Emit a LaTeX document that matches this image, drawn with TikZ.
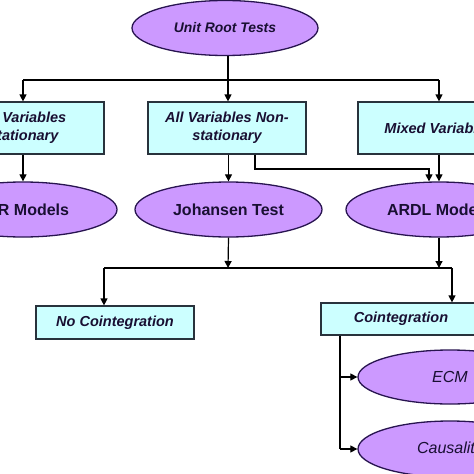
\documentclass[tikz,border=0pt]{standalone}
\usepackage{fontspec}
\setmainfont{Liberation Sans}
\usetikzlibrary{shapes.geometric,arrows.meta}
\definecolor{ellfill}{RGB}{204,153,255}
\definecolor{ellline}{RGB}{40,20,80}
\definecolor{boxfill}{RGB}{204,255,255}
\definecolor{boxline}{RGB}{40,50,60}
\definecolor{txt}{RGB}{25,15,50}
\begin{document}
\begin{tikzpicture}[x=1pt,y=-1pt,
  ell/.style={ellipse,draw=ellline,fill=ellfill,line width=1.3pt,inner sep=0pt,text=txt},
  bx/.style={rectangle,draw=boxline,fill=boxfill,line width=1.2pt,inner sep=0pt,text=txt,align=center,
    font=\fontsize{14.5}{18}\selectfont\bfseries\itshape},
  conn/.style={line width=1.2pt,draw=black},
  arr/.style={conn,-{Triangle[length=7pt,width=7pt]}}]
\useasboundingbox (0,0) rectangle (474,474);
\fill[white] (0,0) rectangle (474,474);
% nodes
\node[ell,minimum width=186pt,minimum height=55pt,font=\fontsize{13.9}{16}\selectfont\bfseries\itshape] (urt) at (225,28) {Unit Root Tests};
\node[bx,minimum width=162pt,minimum height=52pt] (b1) at (23,128) {All Variables\\Stationary};
\node[bx,minimum width=158pt,minimum height=52pt] (b2) at (227,128) {All Variables Non-\\stationary};
\node[bx,minimum width=162pt,minimum height=52pt] (b3) at (439,128) {Mixed Variables};
\node[ell,minimum width=188pt,minimum height=55pt,font=\fontsize{16}{18}\selectfont\bfseries] (var) at (23,209.5) {VAR Models};
\node[ell,minimum width=187pt,minimum height=55pt,font=\fontsize{16}{18}\selectfont\bfseries] (joh) at (228.5,209.5) {Johansen Test};
\node[ell,minimum width=186pt,minimum height=55pt,font=\fontsize{16}{18}\selectfont\bfseries] (ardl) at (439,209.5) {ARDL Models};
\node[bx,minimum width=158pt,minimum height=33pt] (nc) at (115,322.5) {No Cointegration};
\node[bx,minimum width=160pt,minimum height=32pt] (co) at (401,319) {Cointegration};
\node[ell,minimum width=184pt,minimum height=54pt,font=\fontsize{16}{18}\selectfont\itshape] (ecm) at (450,377) {ECM};
\node[ell,minimum width=184pt,minimum height=56pt,font=\fontsize{16}{18}\selectfont\itshape] (cau) at (450,449) {Causality};
% junction coordinates
\coordinate (j1) at (228,80);
\coordinate (j2a) at (255,169);
\coordinate (j2b) at (429,169);
\coordinate (j3) at (228,268);
\coordinate (j4) at (439,268);
\coordinate (cb) at (340,335);
% connectors
\draw[arr] (urt.south -| j1) -- (b2.north -| j1);
\draw[conn] (b1.north |- j1) -- (b3.north |- j1);
\draw[arr] (b1.north |- j1) -- (b1.north);
\draw[arr] (b3.north |- j1) -- (b3.north);
\draw[arr] (b1.south) -- (var.north);
\draw[arr] (b2.south -| joh.north) -- (joh.north);
\draw[arr] (b2.south -| j2a) -- (j2a) -- (j2b) -- (ardl.north -| j2b);
\draw[arr] (b3.south) -- (ardl.north);
\draw[arr] (joh.south) -- (j3);
\draw[arr] (ardl.south) -- (j4);
\draw[conn] (104,268) -- (452,268);
\draw[arr] (104,268) -- (nc.north -| 104,0);
\draw[arr] (452,268) -- (co.north -| 452,0);
\draw[conn] (co.south -| cb) -- (cb |- cau.west);
\draw[arr] (cb |- ecm.west) -- (ecm.west);
\draw[arr] (cb |- cau.west) -- (cau.west);
\end{tikzpicture}
\end{document}
